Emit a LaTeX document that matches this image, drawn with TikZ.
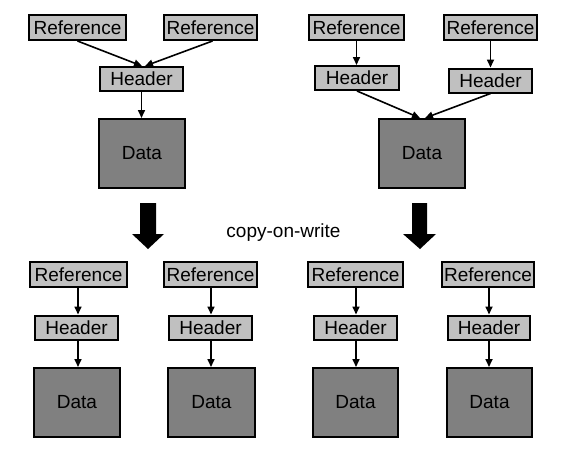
\documentclass[tikz,border=0pt]{standalone}
\usepackage{fontspec}
\setmainfont{Liberation Sans}
\usetikzlibrary{arrows.meta}
\definecolor{lightbox}{HTML}{C0C0C0}
\definecolor{darkbox}{HTML}{808080}
\begin{document}
\begin{tikzpicture}[x=1pt,y=-1pt,
  every node/.style={font=\fontsize{19}{21}\selectfont, inner sep=0pt},
  refbox/.style={draw, line width=2pt, fill=lightbox, minimum height=25pt},
  hdrbox/.style={draw, line width=2pt, fill=lightbox, minimum height=24pt, minimum width=83pt},
  databox/.style={draw, line width=2pt, fill=darkbox, minimum height=69pt, minimum width=86pt},
  conn/.style={line width=1.6pt, -{Triangle[length=8pt,width=7pt]}},
  bigarrow/.style={fill=black}
]
\fill[white] (0,0) rectangle (567,453);
\useasboundingbox (0,0) rectangle (567,453);

% ---------- top left ----------
\node[refbox, minimum width=97pt] (ra) at (77.5,27.5) {Reference};
\node[refbox, minimum width=93pt] (rb) at (210.5,27.5) {Reference};
\node[hdrbox] (ha) at (141.5,79) {Header};
\node[databox] (da) at (142,153.5) {Data};
\coordinate (haL) at ([xshift=0.5pt]ha.north);
\coordinate (haR) at ([xshift=3.5pt]ha.north);
\draw[conn] (ra.south) -- (haL);
\draw[conn] ([xshift=2pt]rb.south) -- (haR);
\draw[conn] (ha.south) -- (ha.south |- da.north);

% ---------- top right ----------
\node[refbox, minimum width=95pt] (rc) at (356.5,27.5) {Reference};
\node[refbox, minimum width=93pt] (rd) at (490.5,27.5) {Reference};
\node[hdrbox, minimum width=84pt] (hc) at (357,78) {Header};
\node[hdrbox] (hd) at (490.5,80.5) {Header};
\node[databox] (db) at (422,153.5) {Data};
\coordinate (dbL) at ([xshift=-2pt]db.north);
\coordinate (dbR) at ([xshift=3pt]db.north);
\draw[conn] (rc.south) -- (rc.south |- hc.north);
\draw[conn] (rd.south) -- (rd.south |- hd.north);
\draw[conn] (hc.south) -- (dbL);
\draw[conn] (hd.south) -- (dbR);

% ---------- big arrows and label ----------
\fill[bigarrow] (140,203) -- (156,203) -- (156,234) -- (164,234) -- (148,249) -- (132,234) -- (140,234) -- cycle;
\fill[bigarrow] (412,203) -- (427,203) -- (427,234) -- (436,234) -- (420,249) -- (403,234) -- (412,234) -- cycle;
\node[anchor=base] (cow) at (283.5,237) {copy-on-write};

% ---------- bottom row ----------
\node[refbox, minimum width=97pt] (r1) at (78.5,274.5) {Reference};
\node[hdrbox] (h1) at (76.5,327.5) {Header};
\node[databox] (d1) at (77,402.5) {Data};

\node[refbox, minimum width=93pt] (r2) at (210.5,274.5) {Reference};
\node[hdrbox] (h2) at (210.5,327.5) {Header};
\node[databox, minimum width=87pt] (d2) at (211.5,402.5) {Data};

\node[refbox, minimum width=95pt] (r3) at (355.5,274.5) {Reference};
\node[hdrbox] (h3) at (355.5,327.5) {Header};
\node[databox, minimum width=85pt] (d3) at (355.5,402.5) {Data};

\node[refbox, minimum width=92pt] (r4) at (488,274.5) {Reference};
\node[hdrbox, minimum width=82pt] (h4) at (489,327.5) {Header};
\node[databox, minimum width=85pt] (d4) at (489.5,402.5) {Data};

\foreach \i/\x in {1/78,2/211,3/356,4/489}{
  \draw[conn] (r\i.south -| \x,0) -- (h\i.north -| \x,0);
  \draw[conn] (h\i.south -| \x,0) -- (d\i.north -| \x,0);
}
\end{tikzpicture}
\end{document}
